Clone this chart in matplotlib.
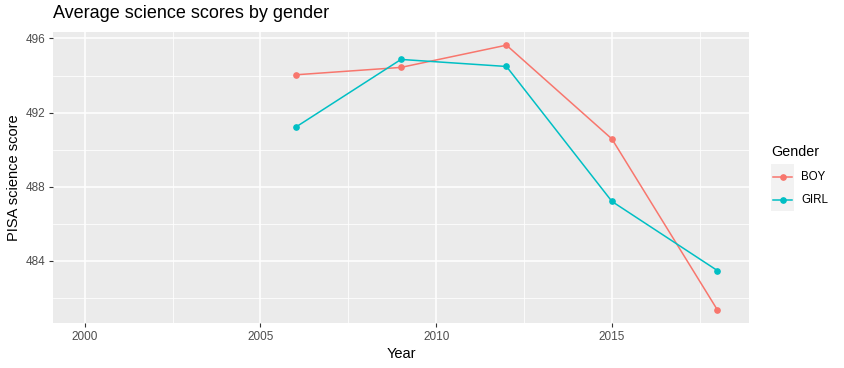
import matplotlib
matplotlib.use("Agg")
import matplotlib.pyplot as plt
from matplotlib.lines import Line2D
from matplotlib.patches import Rectangle

plt.rcParams['font.family'] = ['Liberation Sans', 'DejaVu Sans']

years = [2006, 2009, 2012, 2015, 2018]
boy = [494.04, 494.44, 495.64, 490.58, 481.36]
girl = [491.21, 494.87, 494.49, 487.21, 483.48]
series = {"BOY": boy, "GIRL": girl}
colors = {"BOY": "#F8766D", "GIRL": "#00BFC4"}
xticks = [2000, 2005, 2010, 2015]
yticks = [484, 488, 492, 496]

W, H = 844, 368
fig = plt.figure(figsize=(W/100, H/100), dpi=100)
ax = fig.add_axes([53/W, (H-323)/H, 696/W, 291/H])
ax.set_facecolor("#EBEBEB")
for s in ax.spines.values():
    s.set_visible(False)

ax.set_xlim(1999.1, 2018.9)
ax.set_ylim(480.65, 496.35)
ax.set_xticks(xticks)
ax.set_yticks(yticks)
ax.set_xticks([2002.5, 2007.5, 2012.5, 2017.5], minor=True)
ax.set_yticks([482, 486, 490, 494], minor=True)
ax.grid(which="major", color="white", linewidth=1.1)
ax.grid(which="minor", color="white", linewidth=0.55)
ax.set_axisbelow(True)
ax.tick_params(which="major", length=3, color="#333333", labelsize=8.5, labelcolor="#4D4D4D", pad=2.5)
ax.tick_params(which="minor", length=0)

for name, vals in series.items():
    ax.plot(years, vals, color=colors[name], linewidth=1.1, marker="o", markersize=3.8, label=name)

ax.set_xlabel("Year", fontsize=10.5, labelpad=3)
ax.set_ylabel("PISA science score", fontsize=10.5, labelpad=3)
fig.text(53/W, 1-14/H, "Average science scores by gender", fontsize=13, va="center", ha="left")

# legend (drawn manually in ggplot style)
fig.text(771/W, 1-152.5/H, "Gender", fontsize=10.3, va="center", ha="left")
fig.patches.append(Rectangle((771/W, 1-211/H), 23/W, 47/H, transform=fig.transFigure,
                             facecolor="#F2F2F2", edgecolor="none"))
key_y = [176.7, 200.0]
for (name, _), ky in zip(series.items(), key_y):
    yf = 1 - ky/H
    fig.add_artist(Line2D([773/W, 792/W], [yf, yf], transform=fig.transFigure,
                          color=colors[name], linewidth=1.1))
    fig.add_artist(Line2D([782.5/W], [yf], transform=fig.transFigure, color=colors[name],
                          marker="o", markersize=3.8, linestyle="none"))
    fig.text(801/W, yf, name, fontsize=8.3, va="center", ha="left")

fig.savefig("out.png", dpi=100)
